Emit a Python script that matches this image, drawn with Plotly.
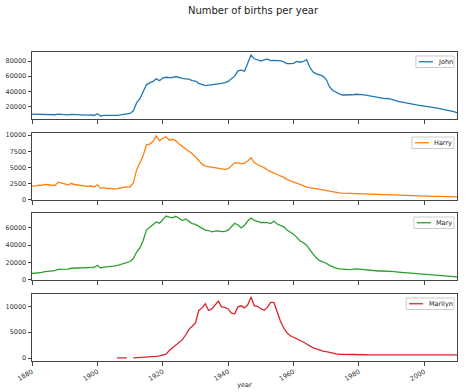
import plotly.graph_objects as go
from plotly.subplots import make_subplots

years = list(range(1880, 2011))

john = [
    9700, 9500, 9800, 9400, 9600, 9200, 9300, 8800, 9500, 9000,
    9000, 8500, 9300, 8900, 8900, 8800, 8700, 8300, 8600, 7800,
    10200, 7200, 7900, 7700, 8000, 8000, 8100, 8600, 9000, 9300,
    10500, 14000, 24500, 30000, 39000, 48500, 51000, 53000, 56500, 54000,
    57500, 58500, 58000, 58200, 59500, 58000, 57000, 56500, 56000, 54000,
    53500, 50500, 49500, 47500, 48000, 48500, 48500, 49000, 50500, 51500,
    53000, 56500, 60000, 67000, 68000, 66500, 78000, 88000, 83000, 81000,
    80000, 81500, 82500, 80500, 81000, 80500, 80500, 79000, 76500, 76500,
    77000, 79500, 78500, 79500, 82000, 71500, 65500, 63000, 61500, 60000,
    55500, 46000, 41000, 38500, 36500, 35000, 34800, 35000, 35300, 36000,
    36000, 35500, 34800, 34000, 33000, 32300, 31500, 30500, 30300, 30500,
    29500, 28000, 26500, 25500, 24500, 23500, 22800, 22000, 21500, 21000,
    20500, 19500, 18500, 18000, 17500, 16500, 15800, 15000, 14000, 12800,
    11500,
]

harry = [
    2150, 2100, 2250, 2200, 2350, 2300, 2300, 2200, 2700, 2600,
    2450, 2250, 2500, 2350, 2300, 2250, 2200, 2050, 2150, 1950,
    2300, 1750, 1850, 1700, 1750, 1650, 1700, 1800, 1950, 1980,
    2000, 2600, 4600, 5700, 6800, 8500, 8600, 9000, 9850, 9100,
    9500, 9750, 9200, 9350, 9100, 8600, 8250, 7900, 7500, 7100,
    6650, 6000, 5500, 5200, 5100, 5050, 4950, 4900, 4800, 4700,
    4800, 5300, 5700, 5700, 5550, 5650, 6000, 6500, 5750, 5400,
    5200, 4950, 4600, 4300, 4100, 3900, 3700, 3450, 3150, 2900,
    2700, 2550, 2350, 2100, 1950, 1850, 1750, 1680, 1580, 1480,
    1380, 1250, 1150, 1100, 1050, 1000, 980, 950, 920, 900,
    880, 850, 830, 810, 800, 790, 780, 770, 760, 750,
    740, 720, 700, 690, 680, 670, 650, 620, 600, 580,
    560, 540, 530, 520, 510, 500, 490, 480, 470, 460,
    420,
]

mary = [
    7100, 7300, 8200, 8300, 9400, 9500, 10000, 10500, 11800, 11700,
    12300, 12200, 13200, 13300, 13500, 13700, 14000, 14100, 14500, 14100,
    16700, 13500, 14600, 14700, 15000, 15700, 16200, 17500, 18500, 19700,
    21000, 24500, 32000, 36800, 45500, 57500, 61000, 64000, 67000, 65500,
    70000, 73800, 72500, 71800, 73500, 70800, 68500, 70500, 68000, 65000,
    64200, 62000, 60500, 57500, 57000, 55500, 56200, 56500, 55800, 56000,
    57500, 61500, 65500, 63500, 60000, 63000, 68000, 71500, 68800, 67700,
    66300, 66300, 66200, 65000, 68000, 64500, 62500, 61200, 57500, 55500,
    52800, 49000, 44800, 42800, 40000, 34500, 29000, 25000, 22000, 20500,
    19000, 16500, 14500, 13300, 12500, 12000, 11700, 11600, 11800, 12500,
    12200, 11800, 11200, 10700, 10300, 10000, 10000, 10000, 10000, 9900,
    9600, 9200, 8800, 8500, 8100, 7800, 7600, 7400, 7200, 7000,
    6800, 6400, 6000, 5700, 5400, 5100, 4700, 4300, 3900, 3500,
    3100,
]

marilyn = [None] * 26 + [
    10, 8, 12, 14, None,
    30, 50, 70, 100, 130, 170, 220, 300, 400,
    560, 750, 1450, 1950, 2400, 2900, 3550, 4450, 5550, 6150,
    6800, 9200, 9700, 10500, 9200, 9500, 10300, 11000, 9900, 9800,
    9500, 8700, 8550, 9900, 10100, 9700, 10300, 11800, 10100, 10000,
    9550, 9250, 9800, 10750, 10750, 9000, 7100, 5800, 4850, 4300,
    4000, 3750, 3550, 3100, 2700, 2250, 1950, 1750, 1500, 1350,
    1250, 1050, 850, 780, 730, 700, 680, 660, 650, 650,
    640, 640, 630, 620, 600, 580, 570, 570, 580, 600,
    620, 640, 620, 600, 620, 640, 620, 610, 600, 620,
    600, 580, 590, 580, 580, 600, 610, 630, 640, 620,
    600,
]

names = ["John", "Harry", "Mary", "Marilyn"]
series = [john, harry, mary, marilyn]
colors = ["#1f77b4", "#ff7f0e", "#2ca02c", "#d62728"]
ytickvals = [
    [20000, 40000, 60000, 80000],
    [0, 2500, 5000, 7500, 10000],
    [0, 20000, 40000, 60000],
    [0, 5000, 10000],
]
xtickvals = [1880, 1900, 1920, 1940, 1960, 1980, 2000]

# ---- layout (page pixels) ----
W, H = 474, 392
plot_l, plot_r, plot_t, plot_b = 32, 457, 52, 361
ml, mr, mt, mb = plot_l, W - plot_r, plot_t, H - plot_b
pw, ph = W - ml - mr, H - mt - mb
panels_px = [(52, 119), (133, 200), (213, 280), (294, 361)]
FONT = "DejaVu Sans"
fs = 6.5
# approximate DejaVu Sans glyph advance widths (em) for legend box sizing
adv = {"J": .295, "o": .612, "h": .634, "n": .634, "H": .752, "a": .613,
       "r": .411, "y": .592, "M": .863, "i": .278, "l": .278}


def xp(px):
    return (px - plot_l) / pw


def yp(py):
    return (plot_b - py) / ph


fig = make_subplots(rows=4, cols=1, shared_xaxes=True)

axis_color = "#444444"
tick_font = dict(family=FONT, size=fs, color="#333333")

for i, (name, vals, col) in enumerate(zip(names, series, colors)):
    fig.add_trace(
        go.Scatter(x=years, y=vals, mode="lines", name=name,
                   line=dict(color=col, width=1.3), showlegend=False,
                   connectgaps=False),
        row=i + 1, col=1,
    )
    clean = [v for v in vals if v is not None]
    lo, hi = min(clean), max(clean)
    pad = 0.05 * (hi - lo)
    top, bot = panels_px[i]
    yname = "yaxis" if i == 0 else f"yaxis{i+1}"
    xname = "xaxis" if i == 0 else f"xaxis{i+1}"
    fig.layout[yname].update(
        domain=[yp(bot), yp(top)], range=[lo - pad, hi + pad],
        tickvals=ytickvals[i], tickformat="d", showgrid=False, zeroline=False,
        showline=True, mirror=True, linecolor=axis_color, linewidth=1,
        ticks="outside", ticklen=3.5, tickcolor=axis_color, tickwidth=1,
        tickfont=tick_font, automargin=False,
    )
    fig.layout[xname].update(
        range=[1880, 2010], tickvals=xtickvals, showgrid=False, zeroline=False,
        showline=True, mirror=True, linecolor=axis_color, linewidth=1,
        ticks="outside", ticklen=3.5, tickcolor=axis_color, tickwidth=1,
        tickfont=tick_font, showticklabels=(i == 3), automargin=False,
    )

    # matplotlib-style legend box in upper right of each panel
    tw = sum(adv.get(c, .6) for c in name) * fs
    right = 454
    left = right - (tw + 24)
    btop, bbot = top + 4, top + 15.5
    ymid = (btop + bbot) / 2
    fig.add_shape(type="rect", xref="paper", yref="paper",
                  x0=xp(left), x1=xp(right), y0=yp(bbot), y1=yp(btop),
                  line=dict(color="#cccccc", width=1), fillcolor="white",
                  layer="above")
    fig.add_shape(type="line", xref="paper", yref="paper",
                  x0=xp(left + 3), x1=xp(left + 17), y0=yp(ymid), y1=yp(ymid),
                  line=dict(color=col, width=1.3), layer="above")
    fig.add_annotation(text=name, xref="paper", yref="paper",
                       x=xp(left + 20.5), y=yp(ymid), xanchor="left",
                       yanchor="middle", showarrow=False,
                       font=dict(family=FONT, size=fs, color="#222222"))

fig.layout["xaxis4"].update(
    tickangle=-30,
    title=dict(text="year", font=dict(family=FONT, size=fs, color="#222222"),
               standoff=0),
)

fig.update_layout(
    width=W, height=H,
    margin=dict(l=ml, r=mr, t=mt, b=mb, autoexpand=False),
    paper_bgcolor="white", plot_bgcolor="white",
    showlegend=False,
    title=dict(text="Number of births per year", x=253 / W,
               xanchor="center", y=1 - 10 / H, yanchor="middle",
               font=dict(family=FONT, size=10, color="#222222")),
)

# remove the browser's default 8px body margin so the figure fills the page
fig.write_html(
    "out.html",
    config={"displayModeBar": False},
    post_script="document.body.style.margin='0px';"
                "document.documentElement.style.overflow='hidden';",
)
